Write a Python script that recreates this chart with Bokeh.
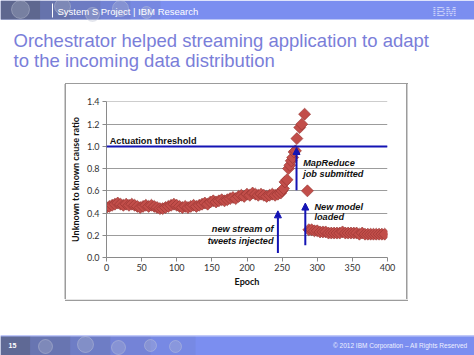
from bokeh.plotting import figure
from bokeh.layouts import column, row, Spacer
from bokeh.models import (Range1d, FixedTicker, NumeralTickFormatter, Span, Arrow,
                          NormalHead, Label, ColumnDataSource)
from bokeh.embed import file_html
from bokeh.resources import INLINE
from bokeh.core.properties import value

# ---------------- data ----------------
base_epoch = [0, 4, 8, 12, 16, 20, 24, 28, 32, 36, 40, 44, 48, 52, 56, 60, 64, 68, 72, 76,
              80, 84, 88, 92, 96, 100, 104, 108, 112, 116, 120, 124, 128, 132, 136, 140,
              144, 148, 152, 156, 160, 164, 168, 172, 176, 180, 184, 188, 192, 196, 200,
              204, 208, 212, 216, 220, 224, 228, 232, 236, 240, 244, 248]
base_ratio = [0.45, 0.46, 0.47, 0.48, 0.49, 0.48, 0.47, 0.48, 0.47, 0.48, 0.47, 0.46, 0.45,
              0.46, 0.47, 0.46, 0.47, 0.46, 0.45, 0.44, 0.44, 0.45, 0.46, 0.47, 0.48, 0.47,
              0.46, 0.45, 0.46, 0.45, 0.46, 0.47, 0.46, 0.47, 0.48, 0.49, 0.48, 0.50, 0.51,
              0.50, 0.51, 0.52, 0.51, 0.52, 0.53, 0.54, 0.53, 0.55, 0.56, 0.55, 0.57, 0.56,
              0.58, 0.57, 0.56, 0.57, 0.56, 0.55, 0.56, 0.57, 0.56, 0.57, 0.58]
spike_epoch = [250, 252, 254, 257, 259, 261, 263, 265, 267, 269, 271, 275, 278, 282, 286]
spike_ratio = [0.60, 0.62, 0.68, 0.70, 0.80, 0.83, 0.87, 0.90, 0.95, 0.96, 1.07, 1.17,
               1.20, 1.29, 0.60]
low_epoch = [288, 292, 296, 300, 304, 308, 312, 316, 320, 324, 328, 332, 336, 340, 344,
             348, 352, 356, 360, 364, 368, 372, 376, 380, 384, 388, 392, 396]
low_ratio = [0.25, 0.25, 0.24, 0.24, 0.23, 0.23, 0.23, 0.22, 0.22, 0.22, 0.22, 0.22, 0.23,
             0.22, 0.22, 0.22, 0.22, 0.22, 0.21, 0.22, 0.21, 0.21, 0.21, 0.21, 0.21, 0.21,
             0.21, 0.21]
x_ticks = [0, 50, 100, 150, 200, 250, 300, 350, 400]
y_ticks = [0.0, 0.2, 0.4, 0.6, 0.8, 1.0, 1.2, 1.4]
threshold = 1.0
arrow_epoch = [244, 270.5, 283]
arrow_from = [0.04, 0.605, 0.11]
arrow_to = [0.42, 0.99, 0.49]

BAND = "#7b8ef0"
BLUE = "#1414b4"
BOX = "#9c9c9c"
SANS = "Liberation Sans"


def deco(w, h):
    f = figure(width=w, height=h, x_range=Range1d(0, w), y_range=Range1d(h, 0),
               output_backend="svg", toolbar_location=None, min_border=0,
               x_axis_type=None, y_axis_type=None, outline_line_color=None,
               background_fill_color="white", border_fill_color="white")
    return f


# ---------------- top: header + title ----------------
top = deco(474, 84)
top.quad(left=0, right=474, top=0, bottom=19, fill_color=BAND, line_color=None)
top.quad(left=[0, 40, 70, 100, 130], right=[40, 70, 100, 130, 160], top=0, bottom=19,
         fill_color="#59607e", fill_alpha=[0.85, 0.6, 0.4, 0.25, 0.12], line_color=None)
top.circle(x=[20, 62, 92, 120, 146], y=[9, 6, 14, 8, 12], radius=[9, 8, 7, 8, 6],
           fill_color="#b4b9cc", fill_alpha=0.3, line_color="#c8ccdc", line_alpha=0.4)
top.segment(x0=[52], y0=[3], x1=[52], y1=[17], line_color="white", line_width=1)
top.text(x=[57], y=[10.5], text=["System S Project | IBM Research"],
         text_font=value(SANS), text_font_size="9.5px", text_color="white",
         text_baseline="middle")
top.text(x=[444], y=[10.5], text=["IBM"], text_font=value(SANS), text_font_style="bold",
         text_font_size="13px", text_color="#c9d0fa", text_align="center",
         text_baseline="middle")
top.segment(x0=[428] * 5, y0=[6, 8, 10, 12, 14], x1=[461] * 5, y1=[6, 8, 10, 12, 14],
            line_color=BAND, line_width=0.8)
top.text(x=[13, 13], y=[40, 60],
         text=["Orchestrator helped streaming application to adapt",
               "to the incoming data distribution"],
         text_font=value(SANS), text_font_size="18.5px", text_color="#7a7ed9",
         text_baseline="alphabetic")
top.quad(left=[64.5], right=[407.5], top=[82.5], bottom=[84], fill_color=BOX, line_color=None)

# ---------------- chart ----------------
p = figure(width=340, height=215, x_range=Range1d(0, 400), y_range=Range1d(0, 1.404),
           output_backend="svg", toolbar_location=None,
           min_border_left=37, min_border_right=19, min_border_top=17,
           min_border_bottom=42, outline_line_color=None,
           background_fill_color="white", border_fill_color="white",
           styles={"box-shadow": "-1.5px 0 0 0 #9c9c9c, 1.5px 0 0 0 #9c9c9c"})
p.xgrid.visible = False
p.ygrid.grid_line_color = "#9c9c9c"
p.ygrid.grid_line_width = 1
p.xaxis.ticker = FixedTicker(ticks=x_ticks)
p.yaxis.ticker = FixedTicker(ticks=y_ticks)
p.yaxis.formatter = NumeralTickFormatter(format="0.0")
for ax in (p.xaxis, p.yaxis):
    ax.axis_line_color = "#8a8a8a"
    ax.major_tick_line_color = "#8a8a8a"
    ax.minor_tick_line_color = None
    ax.major_tick_out = 4
    ax.major_tick_in = 0
    ax.major_label_text_font = "Lato"
    ax.major_label_text_font_size = "9px"
    ax.major_label_text_color = "#333333"
    ax.axis_label_text_font = "Lato"
    ax.axis_label_text_font_size = "9px"
    ax.axis_label_text_font_style = "bold"
    ax.axis_label_text_color = "#111111"
p.xaxis.major_label_standoff = 2
p.xaxis.axis_label_standoff = 2
p.yaxis.major_label_standoff = 3
p.yaxis.axis_label_standoff = 3
p.xaxis.axis_label = "Epoch"
p.yaxis.axis_label = "Unknown to known cause ratio"

p.add_layout(Span(location=threshold, dimension="width", line_color=BLUE, line_width=2))

for ep, ra in ((base_epoch, base_ratio), (spike_epoch, spike_ratio), (low_epoch, low_ratio)):
    src = ColumnDataSource(dict(epoch=ep, ratio=ra))
    p.scatter("epoch", "ratio", source=src, marker="square", size=8.5, angle=0.785398,
              fill_color="#c24e4a", line_color="#93332f", line_width=0.6)

for xe, y0, y1 in zip(arrow_epoch, arrow_from, arrow_to):
    p.add_layout(Arrow(end=NormalHead(size=7, fill_color=BLUE, line_color=BLUE, line_width=1),
                       x_start=xe, y_start=y0, x_end=xe, y_end=y1,
                       line_color=BLUE, line_width=2))


def lab(x, y, t, align="left", style="bold italic"):
    p.add_layout(Label(x=x, y=y, text=t, text_align=align, text_baseline="middle",
                       text_font=SANS, text_font_style=style, text_font_size="9.2px",
                       text_color="#111111"))


lab(4.6, 1.047, "Actuation threshold", style="bold")
lab(280, 0.853, "MapReduce")
lab(280, 0.751, "job submitted")
lab(296, 0.458, "New model")
lab(296, 0.365, "loaded")
lab(237.8, 0.258, "new stream of", align="right")
lab(237.8, 0.150, "tweets injected", align="right")

left = Spacer(width=66, height=215)
right = Spacer(width=68, height=215)

# ---------------- bottom: footer ----------------
bot = deco(474, 56)
bot.quad(left=[64.5], right=[407.5], top=[0], bottom=[1.5], fill_color=BOX, line_color=None)
bot.quad(left=0, right=474, top=36, bottom=56, fill_color=BAND, line_color=None)
bot.segment(x0=[0], y0=[36.5], x1=[474], y1=[36.5], line_color="#c6cdf8", line_width=1)
bot.quad(left=[0, 30, 70, 110, 150], right=[30, 70, 110, 150, 195], top=37, bottom=56,
         fill_color="#59607e", fill_alpha=[0.8, 0.55, 0.38, 0.22, 0.1], line_color=None)
bot.circle(x=[45, 85, 118, 150, 175], y=[47, 45, 48, 46, 47], radius=[7, 8, 7, 6, 6],
           fill_color="#b4b9cc", fill_alpha=0.3, line_color="#c8ccdc", line_alpha=0.4)
bot.text(x=[8], y=[46], text=["15"], text_font=value(SANS), text_font_style="bold",
         text_font_size="7px", text_color="white", text_baseline="middle")
bot.text(x=[467], y=[46], text=["\u00a9 2012 IBM Corporation \u2013 All Rights Reserved"],
         text_font=value(SANS), text_font_size="6.5px", text_color="#eef0ff",
         text_align="right", text_baseline="middle")

layout = column(top, row(left, p, right), bot)
open("out.html", "w").write(file_html(layout, INLINE))
